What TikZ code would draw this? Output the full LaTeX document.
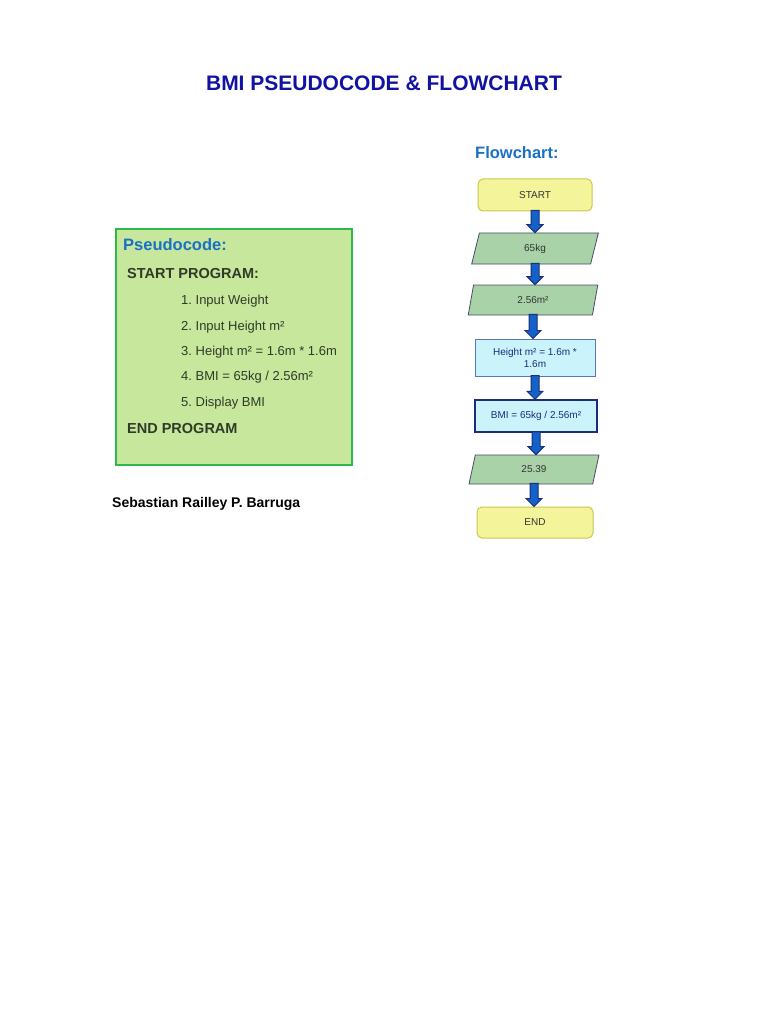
\documentclass[tikz,border=0pt]{standalone}
\usepackage{fontspec}
\setmainfont{Liberation Sans}
\usetikzlibrary{shapes.geometric,calc}
\frenchspacing
\definecolor{titleblue}{HTML}{1212A2}
\definecolor{headblue}{HTML}{1A70C6}
\definecolor{codefill}{HTML}{C6E79C}
\definecolor{codeline}{HTML}{2DB84A}
\definecolor{codetext}{HTML}{2F3B28}
\definecolor{termfill}{HTML}{F4F49A}
\definecolor{termline}{HTML}{C8C84A}
\definecolor{iofill}{HTML}{A9D2A9}
\definecolor{ioline}{HTML}{4A4A66}
\definecolor{procfill}{HTML}{CBF3FC}
\definecolor{procline}{HTML}{5A78B8}
\definecolor{arrfill}{HTML}{1462C8}
\definecolor{arrline}{HTML}{1A2E7A}
\newcommand{\flowarrow}[2]{%
  \path (#1.south) coordinate (p) (#1.south |- #2.north) coordinate (q);
  \draw[arrline, fill=arrfill, line width=1pt, line join=miter]
    ($(p)+(-4,-1)$) -- ($(q)+(-4,-8)$) -- ($(q)+(-8,-8)$) -- (q)
    -- ($(q)+(8,-8)$) -- ($(q)+(4,-8)$) -- ($(p)+(4,-1)$) -- cycle;}

\begin{document}
\begin{tikzpicture}[x=1pt, y=-1pt,
  flowtext/.style={font=\fontsize{10}{12}\selectfont, text=black!80},
  term/.style={flowtext, draw=termline, fill=termfill, rounded corners=5pt, line width=1pt, minimum width=114pt, minimum height=32pt},
  io/.style={flowtext, trapezium, trapezium left angle=83, trapezium right angle=97, trapezium stretches=true, draw=ioline, fill=iofill, line width=0.8pt, minimum width=127pt, minimum height=31pt},
  proc/.style={flowtext, text=arrline, draw=procline, fill=procfill, line width=1pt, minimum width=120pt, minimum height=37pt, align=center},
  code/.style={anchor=base west, text=codetext, font=\fontsize{13}{15}\selectfont},
  codehead/.style={anchor=base west, text=codetext, font=\fontsize{14.5}{17}\selectfont\bfseries}]
\useasboundingbox (0,0) rectangle (768,1024);

\node[anchor=base, text=titleblue, font=\fontsize{21}{25}\selectfont\bfseries] (title) at (384,91) {BMI PSEUDOCODE \& FLOWCHART};
\node[anchor=base west, text=headblue, font=\fontsize{16.5}{19}\selectfont\bfseries, inner sep=0pt] (fchead) at (475,159) {Flowchart:};

\node[draw=codeline, fill=codefill, line width=1.2pt, minimum width=236pt, minimum height=236pt] (pcode) at (234,347) {};
\node[anchor=base west, text=headblue, font=\fontsize{16.5}{19}\selectfont\bfseries, inner sep=0pt] (pchead) at (123,250) {Pseudocode:};
\node[codehead, inner sep=0pt] (pstart) at (127,278) {START PROGRAM:};
\node[code, inner sep=0pt] (s1) at (181,304) {1. Input Weight};
\node[code, inner sep=0pt] (s2) at (181,330) {2. Input Height m²};
\node[code, inner sep=0pt] (s3) at (181,355) {3. Height m² = 1.6m * 1.6m};
\node[code, inner sep=0pt] (s4) at (181,380) {4. BMI = 65kg / 2.56m²};
\node[code, inner sep=0pt] (s5) at (181,406) {5. Display BMI};
\node[codehead, inner sep=0pt] (pend) at (127,433) {END PROGRAM};

\node[anchor=base west, font=\fontsize{14}{17}\selectfont\bfseries, inner sep=0pt] (author) at (112,507) {Sebastian Railley P. Barruga};

\node[term] (start) at (535,195) {START};
\node[io] (weight) at (535,248.5) {65kg};
\node[io, minimum width=130pt, minimum height=30pt] (height) at (533,300) {2.56m²};
\node[proc] (square) at (535,357.5) {Height m² = 1.6m *\\1.6m};
\node[proc, draw=arrline, line width=1.5pt, minimum width=122pt, minimum height=32pt] (bmi) at (536,416) {BMI = 65kg / 2.56m²};
\node[io, minimum width=130pt, minimum height=29pt] (result) at (534,469.5) {25.39};
\node[term, minimum width=116pt, minimum height=31pt] (end) at (535,522.5) {END};

\flowarrow{start}{weight}
\flowarrow{weight}{height}
\flowarrow{height}{square}
\flowarrow{square}{bmi}
\flowarrow{bmi}{result}
\flowarrow{result}{end}
\end{tikzpicture}
\end{document}
